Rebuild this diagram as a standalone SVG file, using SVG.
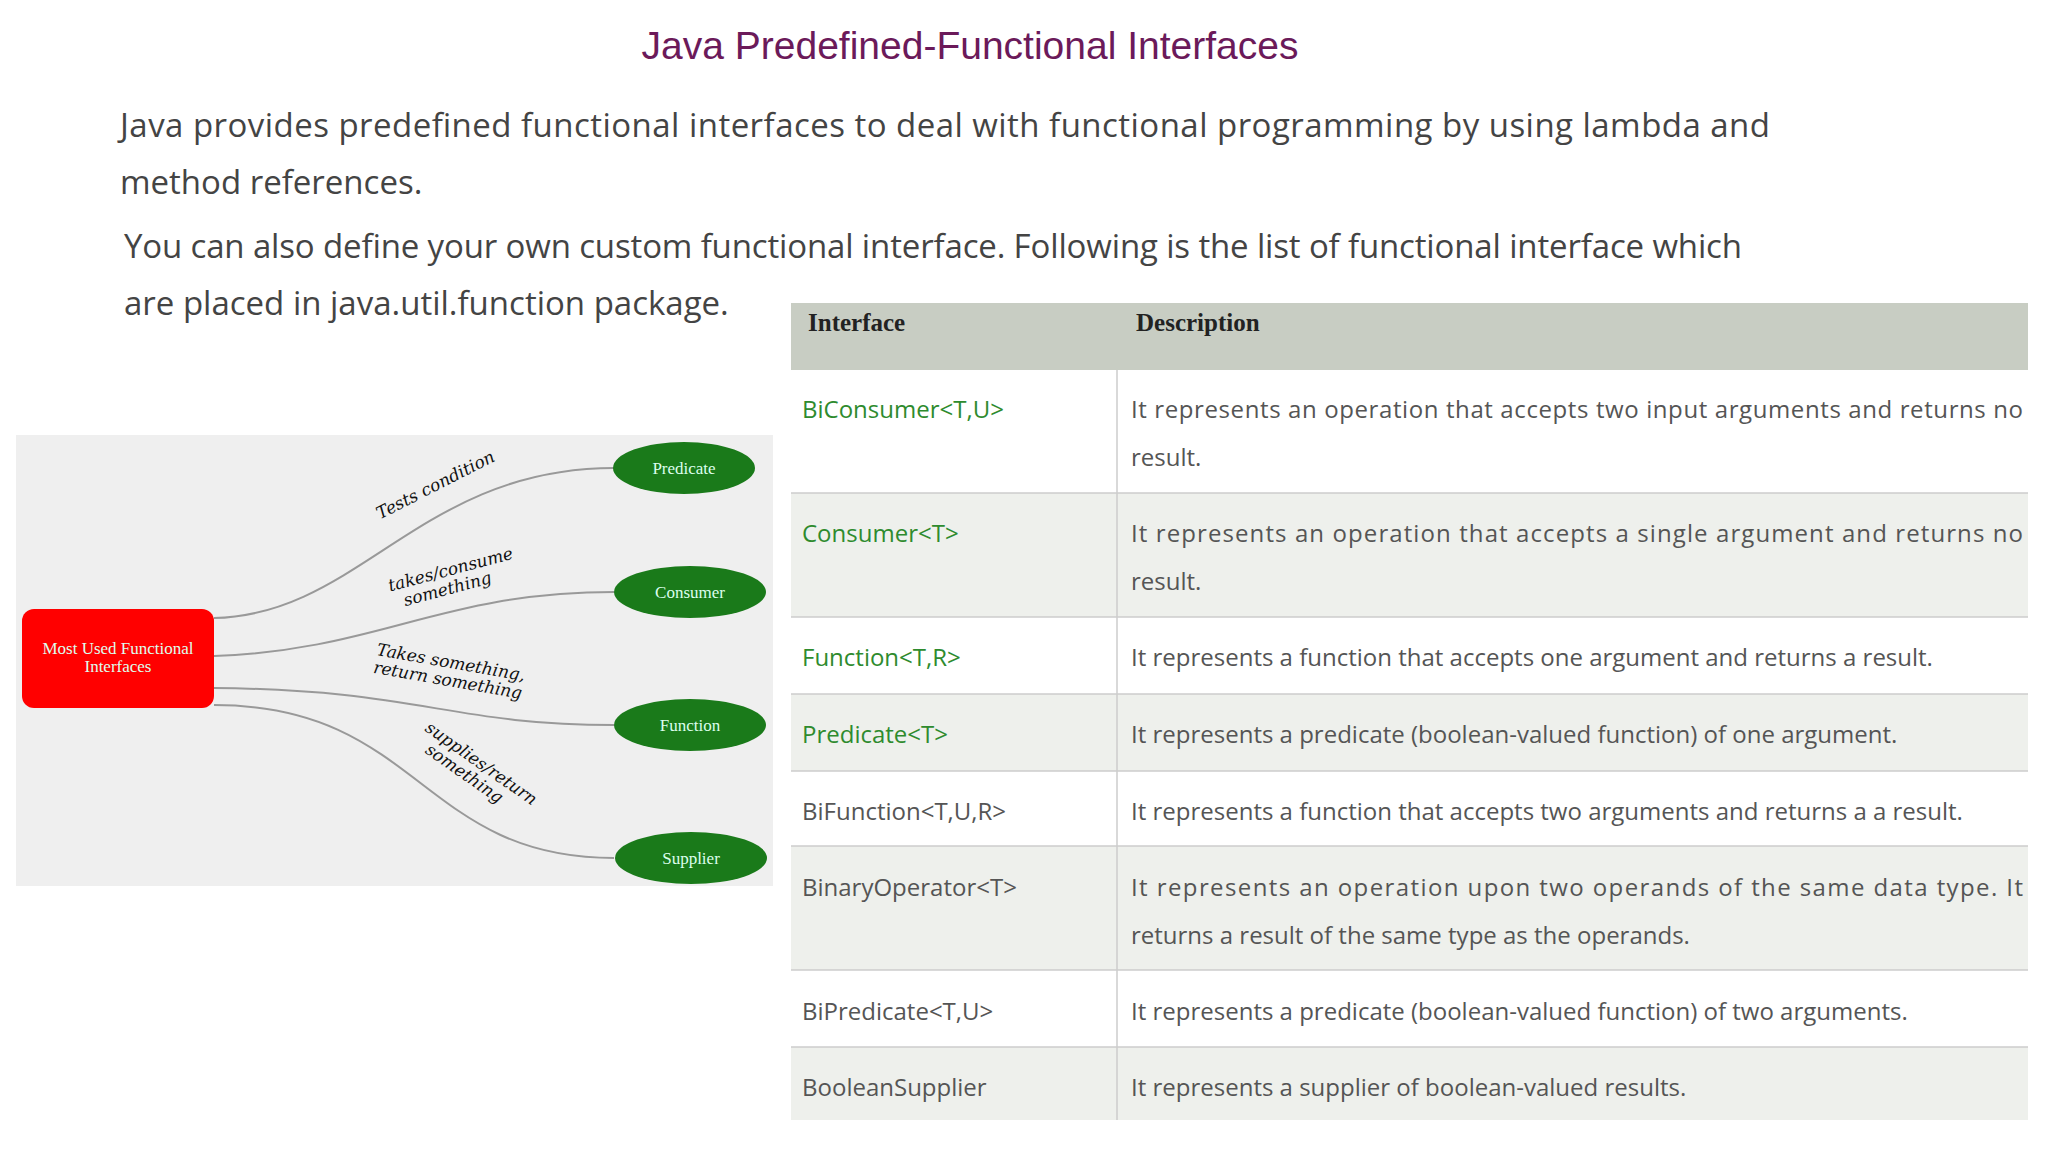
<svg xmlns="http://www.w3.org/2000/svg" width="2048" height="1158" viewBox="0 0 2048 1158">
<style>
.p{font-family:"Open Sans","Liberation Sans",sans-serif;font-size:33px;fill:#444}
.h{font-family:"Liberation Serif",serif;font-size:25px;font-weight:bold;fill:#222}
.i{font-family:"Open Sans","Liberation Sans",sans-serif;font-size:24px;fill:#555}
.g{fill:#2e8b2e}
.d{font-family:"Open Sans","Liberation Sans",sans-serif;font-size:24px;fill:#555}
.n{font-family:"Liberation Serif",serif;font-size:17px;fill:#dfe}
.hw{font-family:"DejaVu Serif",serif;font-style:italic;font-size:17px;fill:#111}
.c{fill:none;stroke:#999;stroke-width:2}
.alt{fill:#eef0ec}
</style>
<rect width="2048" height="1158" fill="#fff"/>
<text x="970" y="59" text-anchor="middle" font-family="Liberation Sans,sans-serif" font-size="39" fill="#6b1a5a">Java Predefined-Functional Interfaces</text>
<text class="p" x="120" y="137" textLength="1650">Java provides predefined functional interfaces to deal with functional programming by using lambda and</text>
<text class="p" x="120" y="194">method references.</text>
<text class="p" x="124" y="258" textLength="1618">You can also define your own custom functional interface. Following is the list of functional interface which</text>
<text class="p" x="124" y="315">are placed in java.util.function package.</text>
<g id="table">
<rect x="791" y="303" width="1237" height="67" fill="#c8cdc3"/>
<rect class="alt" x="791" y="493" width="1237" height="124"/>
<rect class="alt" x="791" y="694" width="1237" height="77"/>
<rect class="alt" x="791" y="846" width="1237" height="124"/>
<rect class="alt" x="791" y="1047" width="1237" height="73"/>
<g stroke="#ccc" stroke-width="1.5"><line x1="1117" y1="370" x2="1117" y2="1120"/><line x1="791" y1="493" x2="2028" y2="493"/><line x1="791" y1="617" x2="2028" y2="617"/><line x1="791" y1="694" x2="2028" y2="694"/><line x1="791" y1="771" x2="2028" y2="771"/><line x1="791" y1="846" x2="2028" y2="846"/><line x1="791" y1="970" x2="2028" y2="970"/><line x1="791" y1="1047" x2="2028" y2="1047"/></g>
<text class="h" x="808" y="331">Interface</text><text class="h" x="1136" y="331">Description</text>
<text class="i g" x="802" y="418">BiConsumer&lt;T,U&gt;</text>
<text class="d" x="1131" y="418" textLength="892">It represents an operation that accepts two input arguments and returns no</text>
<text class="d" x="1131" y="466">result.</text>
<text class="i g" x="802" y="542">Consumer&lt;T&gt;</text>
<text class="d" x="1131" y="542" textLength="892">It represents an operation that accepts a single argument and returns no</text>
<text class="d" x="1131" y="590">result.</text>
<text class="i g" x="802" y="666">Function&lt;T,R&gt;</text>
<text class="d" x="1131" y="666">It represents a function that accepts one argument and returns a result.</text>
<text class="i g" x="802" y="743">Predicate&lt;T&gt;</text>
<text class="d" x="1131" y="743">It represents a predicate (boolean-valued function) of one argument.</text>
<text class="i" x="802" y="820">BiFunction&lt;T,U,R&gt;</text>
<text class="d" x="1131" y="820">It represents a function that accepts two arguments and returns a a result.</text>
<text class="i" x="802" y="896">BinaryOperator&lt;T&gt;</text>
<text class="d" x="1131" y="896" textLength="892">It represents an operation upon two operands of the same data type. It</text>
<text class="d" x="1131" y="944">returns a result of the same type as the operands.</text>
<text class="i" x="802" y="1020">BiPredicate&lt;T,U&gt;</text>
<text class="d" x="1131" y="1020">It represents a predicate (boolean-valued function) of two arguments.</text>
<text class="i" x="802" y="1096">BooleanSupplier</text>
<text class="d" x="1131" y="1096">It represents a supplier of boolean-valued results.</text>
</g>
<rect x="16" y="435" width="757" height="451" fill="#efefef"/>
<g id="connectors">
<path class="c" d="M214,618 C360,615 420,468 614,468"/>
<path class="c" d="M214,656 C380,650 440,592 614,592"/>
<path class="c" d="M214,688 C420,690 450,725 614,725"/>
<path class="c" d="M214,705 C420,705 420,858 614,858"/>
</g>
<g id="root"><rect x="22" y="609" width="192" height="99" rx="12" fill="#f00"/><text class="n" x="118" y="654" text-anchor="middle">Most Used Functional</text><text class="n" x="118" y="672" text-anchor="middle">Interfaces</text></g>
<g id="predicate"><ellipse cx="684" cy="468" rx="71" ry="26" fill="#1a7a1a"/><text class="n" x="684" y="474" text-anchor="middle">Predicate</text></g>
<g id="consumer"><ellipse cx="690" cy="592" rx="76" ry="26" fill="#1a7a1a"/><text class="n" x="690" y="598" text-anchor="middle">Consumer</text></g>
<g id="function"><ellipse cx="690" cy="725" rx="76" ry="26" fill="#1a7a1a"/><text class="n" x="690" y="731" text-anchor="middle">Function</text></g>
<g id="supplier"><ellipse cx="691" cy="858" rx="76" ry="26" fill="#1a7a1a"/><text class="n" x="691" y="864" text-anchor="middle">Supplier</text></g>
<text class="hw" transform="translate(438,490) rotate(-27)" text-anchor="middle">Tests condition</text>
<g transform="translate(452,575) rotate(-15)"><text class="hw" text-anchor="middle">takes/consume</text><text class="hw" x="-8" y="18" text-anchor="middle">something</text></g>
<g transform="translate(450,668) rotate(10)"><text class="hw" text-anchor="middle">Takes something,</text><text class="hw" y="18" text-anchor="middle">return something</text></g>
<g transform="translate(478,768) rotate(35)"><text class="hw" text-anchor="middle">supplies/return</text><text class="hw" x="-8" y="18" text-anchor="middle">something</text></g>
</svg>
